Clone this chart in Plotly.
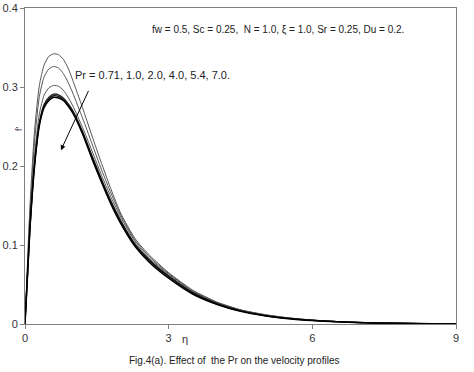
import plotly.graph_objects as go

ETA = [0, 0.1, 0.2, 0.3, 0.4, 0.5, 0.6, 0.7, 0.8, 0.9, 1.0, 1.2, 1.4, 1.6, 1.8, 2.0,
       2.3, 2.6, 3.0, 3.5, 4.0, 4.5, 5.0, 5.5, 6.0, 6.5, 7.0, 7.5, 8.0, 8.5, 9.0]

PR_071 = [0, 0.145, 0.245, 0.302, 0.328, 0.339, 0.342, 0.341, 0.335, 0.324, 0.308, 0.274,
          0.238, 0.203, 0.170, 0.140, 0.108, 0.087, 0.065, 0.043, 0.028, 0.018, 0.012,
          0.0078, 0.005, 0.0032, 0.002, 0.0013, 0.0008, 0.0005, 0.0003]
PR_10 = [0, 0.136, 0.232, 0.288, 0.313, 0.323, 0.326, 0.324, 0.317, 0.306, 0.292, 0.261,
         0.228, 0.195, 0.165, 0.138, 0.106, 0.085, 0.064, 0.042, 0.0275, 0.0178, 0.0118,
         0.0077, 0.005, 0.0032, 0.002, 0.0013, 0.0008, 0.0005, 0.0003]
PR_20 = [0, 0.125, 0.214, 0.266, 0.290, 0.299, 0.302, 0.301, 0.296, 0.287, 0.276, 0.249,
         0.219, 0.188, 0.160, 0.135, 0.104, 0.083, 0.063, 0.041, 0.027, 0.0175, 0.0115,
         0.0075, 0.0049, 0.0031, 0.002, 0.0013, 0.0008, 0.0005, 0.0003]
PR_40 = [0, 0.119, 0.204, 0.255, 0.278, 0.287, 0.291, 0.290, 0.286, 0.279, 0.270, 0.244,
         0.213, 0.183, 0.155, 0.131, 0.101, 0.081, 0.061, 0.040, 0.026, 0.017, 0.011,
         0.0072, 0.0047, 0.003, 0.0019, 0.0012, 0.0007, 0.0004, 0.0002]
PR_54 = [0, 0.118, 0.202, 0.253, 0.276, 0.285, 0.289, 0.288, 0.284, 0.277, 0.268, 0.242,
         0.211, 0.181, 0.153, 0.129, 0.100, 0.080, 0.060, 0.039, 0.0255, 0.0165, 0.0107,
         0.007, 0.0045, 0.0029, 0.0018, 0.0011, 0.0007, 0.0004, 0.0002]
PR_70 = [0, 0.117, 0.200, 0.251, 0.274, 0.283, 0.287, 0.286, 0.283, 0.276, 0.267, 0.241,
         0.209, 0.179, 0.151, 0.127, 0.098, 0.078, 0.058, 0.038, 0.025, 0.016, 0.0104,
         0.0068, 0.0044, 0.0028, 0.0017, 0.0011, 0.0007, 0.0004, 0.0002]

SERIES = [("Pr = 0.71", PR_071), ("Pr = 1.0", PR_10), ("Pr = 2.0", PR_20),
          ("Pr = 4.0", PR_40), ("Pr = 5.4", PR_54), ("Pr = 7.0", PR_70)]
COLORS = ["#555555", "#555555", "#555555", "#222222", "#111111", "#000000"]
WIDTHS = [1.0, 1.0, 1.0, 1.3, 1.3, 1.5]

X_TICKS = [0, 3, 6, 9]
Y_TICKS = [0, 0.1, 0.2, 0.3, 0.4]
Y_TICKTEXT = ["0", "0.1", "0.2", "0.3", "0.4"]

FONT = "Liberation Sans, Arial, sans-serif"

fig = go.Figure()
for (name, vals), c, w in zip(SERIES, COLORS, WIDTHS):
    fig.add_trace(go.Scatter(x=ETA, y=vals, mode="lines", name=name,
                             line=dict(color=c, width=w, shape="spline", smoothing=0.6),
                             showlegend=False, hoverinfo="skip"))

fig.update_xaxes(range=[0, 9], tickvals=X_TICKS, ticks="outside", ticklen=4,
                 tickcolor="#808080", showline=True, linecolor="#808080", linewidth=1,
                 mirror=True, showgrid=False, zeroline=False, automargin=False,
                 tickfont=dict(family=FONT, size=11, color="#333333"))
fig.update_yaxes(range=[0, 0.4], tickvals=Y_TICKS, ticktext=Y_TICKTEXT, ticks="outside",
                 ticklen=4, tickcolor="#808080", showline=True, linecolor="#808080",
                 linewidth=1, mirror=True, showgrid=False, zeroline=False, automargin=False,
                 tickfont=dict(family=FONT, size=11, color="#333333"))

fig.add_annotation(x=0.75, y=0.22, ax=1.34, ay=0.297, xref="x", yref="y",
                   axref="x", ayref="y", text="", showarrow=True, arrowhead=2,
                   arrowsize=1, arrowwidth=1, arrowcolor="#000000")
fig.add_annotation(x=1.0, y=0.315, xref="x", yref="y", xanchor="left", yanchor="middle",
                   text="Pr = 0.71, 1.0, 2.0, 4.0, 5.4, 7.0.", showarrow=False,
                   font=dict(family=FONT, size=11, color="#222222"))
fig.add_annotation(x=2.6, y=0.372, xref="x", yref="y", xanchor="left", yanchor="middle",
                   text="fw = 0.5, Sc = 0.25,  N = 1.0, ξ = 1.0, Sr = 0.25, Du = 0.2.",
                   showarrow=False, font=dict(family=FONT, size=10, color="#222222"))
fig.add_annotation(x=0.371, y=-0.047, xref="paper", yref="paper", text="η",
                   showarrow=False, yanchor="middle",
                   font=dict(family=FONT, size=11, color="#333333"))
fig.add_annotation(x=-0.030, y=0.617, xref="paper", yref="paper", text="f'",
                   showarrow=False, textangle=-90, yanchor="middle",
                   font=dict(family=FONT, size=9, color="#333333"))
fig.add_annotation(x=0.484, y=-0.114, xref="paper", yref="paper", yanchor="middle",
                   text="Fig.4(a). Effect of  the Pr on the velocity profiles",
                   showarrow=False, font=dict(family=FONT, size=10, color="#222222"))

fig.update_layout(width=474, height=372, margin=dict(l=25, r=18, t=8, b=48),
                  plot_bgcolor="white", paper_bgcolor="white")

fig.write_html("out.html", config={"displayModeBar": False},
               post_script="document.body.style.margin='0';")
